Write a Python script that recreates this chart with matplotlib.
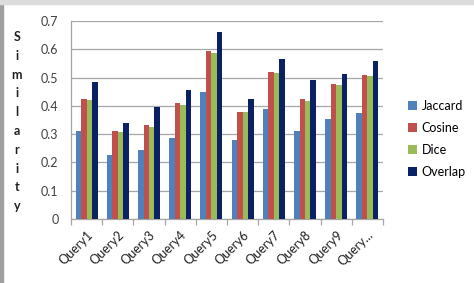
import matplotlib
matplotlib.use("Agg")
import matplotlib.pyplot as plt
import numpy as np
from matplotlib.patches import Rectangle

categories = ["Query1", "Query2", "Query3", "Query4", "Query5",
              "Query6", "Query7", "Query8", "Query9", "Query..."]
series_names = ["Jaccard", "Cosine", "Dice", "Overlap"]
jaccard = [0.311, 0.226, 0.244, 0.288, 0.448, 0.279, 0.388, 0.311, 0.352, 0.376]
cosine = [0.426, 0.311, 0.333, 0.409, 0.595, 0.379, 0.518, 0.426, 0.477, 0.509]
dice = [0.419, 0.306, 0.324, 0.403, 0.587, 0.377, 0.515, 0.417, 0.474, 0.504]
overlap = [0.483, 0.341, 0.396, 0.457, 0.661, 0.424, 0.567, 0.492, 0.513, 0.560]
y_ticks = [0, 0.1, 0.2, 0.3, 0.4, 0.5, 0.6, 0.7]
y_label = "Similarity"

colors = ["#4F81BD", "#C0504D", "#9BBB59", "#0A2263"]
plt.rcParams['font.family'] = ['Lato', 'DejaVu Sans']

W, H = 474, 283
fig = plt.figure(figsize=(W / 100, H / 100), dpi=100)
ax = fig.add_axes([71 / W, 1 - 219 / H, (383 - 71) / W, (219 - 21) / H])

data = [jaccard, cosine, dice, overlap]
x = np.arange(len(categories))
bw = 0.175
for i, (vals, c, name) in enumerate(zip(data, colors, series_names)):
    ax.bar(x + (i - 1.5) * bw, vals, width=bw, color=c, label=name, zorder=3)

ax.set_xlim(-0.5, len(categories) - 0.5)
ax.set_ylim(0, 0.7)
ax.set_yticks(y_ticks)
ax.set_yticklabels([f"{t:g}" for t in y_ticks], fontsize=9, color="#404040")
ax.yaxis.grid(True, color="#a6a6a6", linewidth=0.9, zorder=0)
ax.tick_params(axis='y', length=0, pad=9)

ax.set_xticks(x)
ax.set_xticks(np.append(x - 0.5, len(categories) - 0.5), minor=True)
ax.set_xticklabels(categories, rotation=45, ha='right', va='top',
                   rotation_mode='anchor', fontsize=9, color="#202020")
ax.tick_params(axis='x', which='major', length=0, pad=7)
ax.tick_params(axis='x', which='minor', length=4, color="#a6a6a6", width=0.9)

for s in ['top', 'right']:
    ax.spines[s].set_visible(False)
for s in ['left', 'bottom']:
    ax.spines[s].set_color("#a6a6a6")
    ax.spines[s].set_linewidth(0.9)

# stacked vertical y label
for k, ch in enumerate(y_label):
    fig.text(17 / W, 1 - (37 + k * 18.8) / H, ch.lower() if k else ch,
             ha='center', va='center', fontsize=9, fontweight='bold',
             color="#202020")

leg = fig.legend(loc='upper left', bbox_to_anchor=(403 / W, 1 - 95 / H),
                 frameon=False, fontsize=9, handlelength=0.7, handleheight=0.7,
                 handletextpad=0.4, labelspacing=0.8, borderaxespad=0)

# figure frame
fig.patches.append(Rectangle((0, 0), 3 / W, 1, transform=fig.transFigure,
                             color="#a0a0a0", zorder=10))
fig.patches.append(Rectangle((0, 1 - 4 / H), 1, 4 / H, transform=fig.transFigure,
                             color="#dcdcdc", zorder=10))

fig.savefig("out.png", dpi=100)
